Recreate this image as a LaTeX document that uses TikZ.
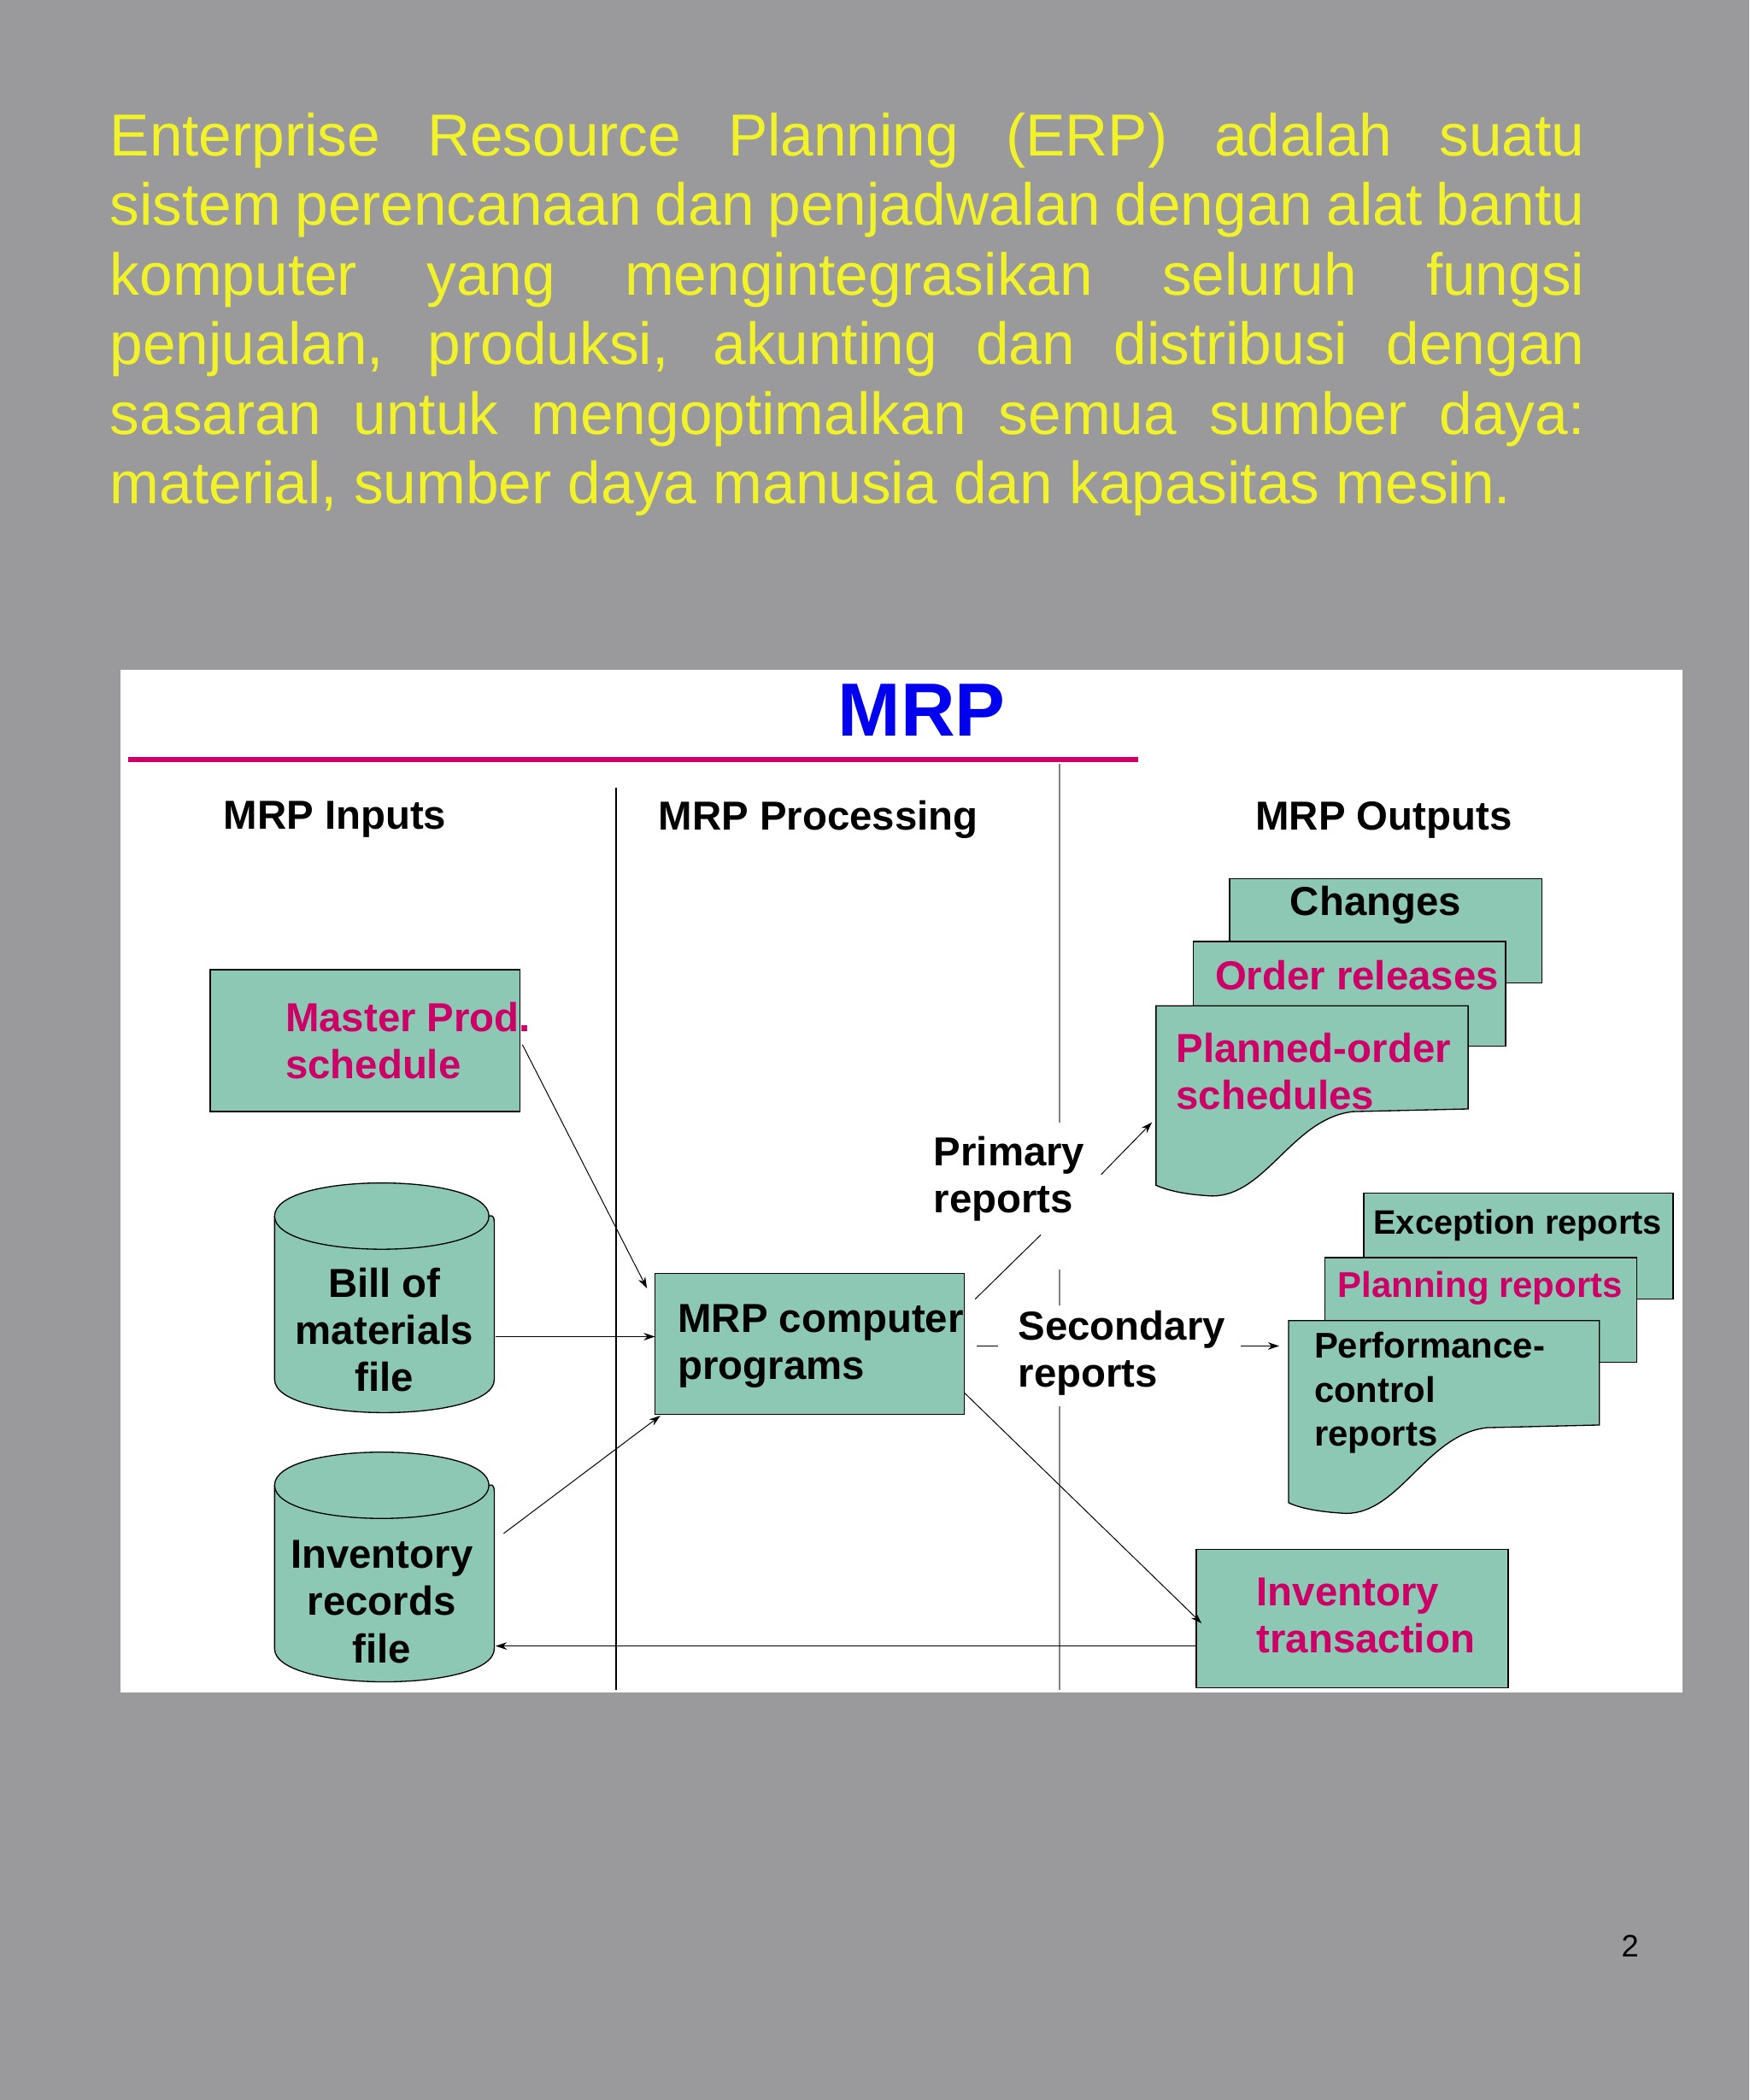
\documentclass[tikz,border=0pt]{standalone}
\usepackage{fontspec}
\setmainfont{Liberation Sans}
\usetikzlibrary{arrows.meta}
\definecolor{bg}{HTML}{9A999B}
\definecolor{yel}{HTML}{F2F22A}
\definecolor{teal}{HTML}{8CC8B4}
\definecolor{mag}{HTML}{CC0066}
\definecolor{blu}{HTML}{0000EE}
\begin{document}
\begin{tikzpicture}[x=0.05cm,y=-0.05cm,
  box/.style={draw=black,fill=teal,line width=1.2pt},
  doc/.style={draw=black,fill=teal,line width=1.2pt},
  lbl/.style={font=\fontsize{43}{50}\selectfont\bfseries,align=left,inner sep=0pt},
  arr/.style={-{Stealth[length=12pt,width=8pt]},line width=0.9pt}]
\useasboundingbox (0,0) rectangle (1306,1568);
\fill[bg] (0,0) rectangle (1306,1568);
\node[anchor=north west,inner sep=0pt,text width=55.05cm,align=justify,text=yel,
  font=\fontsize{63}{74}\selectfont] (para) at (82,84)
 {\hyphenpenalty=10000 Enterprise Resource Planning (ERP) adalah suatu\linebreak sistem perencanaan dan penjadwalan dengan alat bantu\linebreak komputer yang mengintegrasikan seluruh fungsi\linebreak penjualan, produksi, akunting dan distribusi dengan\linebreak sasaran untuk mengoptimalkan semua sumber daya:\linebreak material, sumber daya manusia dan kapasitas mesin.};
\fill[white] (90,500) rectangle (1256,1264);
\node[text=blu,font=\fontsize{80}{80}\selectfont\bfseries] (title) at (688,530) {MRP};
\draw[mag,line width=5pt] (96,567) -- (850,567);
\draw[black,line width=1.2pt] (460,588) -- (460,1262);
\draw[gray,line width=1.5pt] (791,570) -- (791,838) (791,948)--(791,975) (791,1050)--(791,1262);
\node[lbl] (h1) at (250,612) {MRP Inputs};
\node[lbl] (h2) at (611,612) {MRP Processing};
\node[lbl] (h3) at (1033,612) {MRP Outputs};
% master
\draw[box] (157,724) rectangle (388,830);
\node[lbl,text=mag,anchor=west] (mps) at (213,777) {Master Prod.\\schedule};
\coordinate (mpsE) at (390,780);
% cylinders
\foreach \y/\nm in {908/bom,1109/inv}{
  \draw[doc] (205,\y) -- (205,\y+122) .. controls (205,\y+155) and (369,\y+155) .. (369,\y+122) -- (369,\y+5)
     .. controls (369,\y-2) and (366,\y) .. (365,\y);
  \draw[doc] (205,\y) .. controls (205,\y-33) and (365,\y-33) .. (365,\y) .. controls (365,\y+33) and (205,\y+33) .. (205,\y) -- cycle;
  \coordinate (\nm) at (287,\y+60);
}
\node[lbl,align=center] (bomt) at (287,993) {Bill of\\materials\\file};
\node[lbl,align=center] (invt) at (285,1196) {Inventory\\records\\file};
% processing
\draw[box] (489,951) rectangle (720,1056);
\node[lbl,anchor=west] (mrp) at (506,1005) {MRP computer\\programs};
\coordinate (mrpW) at (489,998);
% outputs 1
\draw[doc] (918,656) rectangle (1151,734);
\node[lbl] at (1027,676) {Changes};
\draw[doc] (891,703) rectangle (1124,781);
\node[lbl,text=mag] at (1013,728) {Order releases};
\draw[doc] (863,751) -- (1096,751) -- (1096,828) -- (1010,830) .. controls (965,835) and (945,893) .. (905,893) .. controls (885,892) and (872,889) .. (863,885) -- cycle;
\node[lbl,text=mag,anchor=west] (por) at (878,800) {Planned-order\\schedules};
\coordinate (porW) at (860,838);
% outputs 2
\draw[doc] (1018,891) rectangle (1249,970);
\node[lbl,font=\fontsize{36}{42}\selectfont\bfseries] at (1133,915) {Exception reports};
\draw[doc] (989,939) rectangle (1222,1017);
\node[lbl,text=mag,font=\fontsize{38}{44}\selectfont\bfseries] at (1105,962) {Planning reports};
\draw[doc] (962,986) -- (1194,986) -- (1194,1064) -- (1110,1066) .. controls (1065,1071) and (1045,1130) .. (1005,1130) .. controls (985,1129) and (970,1126) .. (962,1122) -- cycle;
\node[lbl,anchor=west,font=\fontsize{38}{47}\selectfont\bfseries] (pcr) at (981,1040) {Performance-\\control\\reports};
\coordinate (pcrW) at (955,1005);
% inventory transaction
\draw[box] (893,1157) rectangle (1126,1260);
\node[lbl,text=mag,anchor=west] (it) at (938,1206) {Inventory\\transaction};
% labels
\node[lbl,anchor=west] (prim) at (697,880) {Primary\\reports};
\node[lbl,anchor=west] (sec) at (760,1010) {Secondary\\reports};
% arrows
\draw[arr] (mpsE) -- (483,962);
\draw[arr] (370,998) -- (mrpW);
\draw[arr] (376,1145) -- (493,1057);
\draw[line width=0.9pt] (728,970) -- (777,922);
\draw[arr] (822,877) -- (porW);
\draw[line width=0.9pt] (729,1005) -- (745,1005);
\draw[arr] (926,1005) -- (pcrW);
\draw[arr] (720,1040) -- (897,1212);
\draw[arr] (893,1229) -- (370,1229);
\node[font=\fontsize{33}{40}\selectfont] (pg) at (1217,1453) {2};
\end{tikzpicture}
\end{document}
